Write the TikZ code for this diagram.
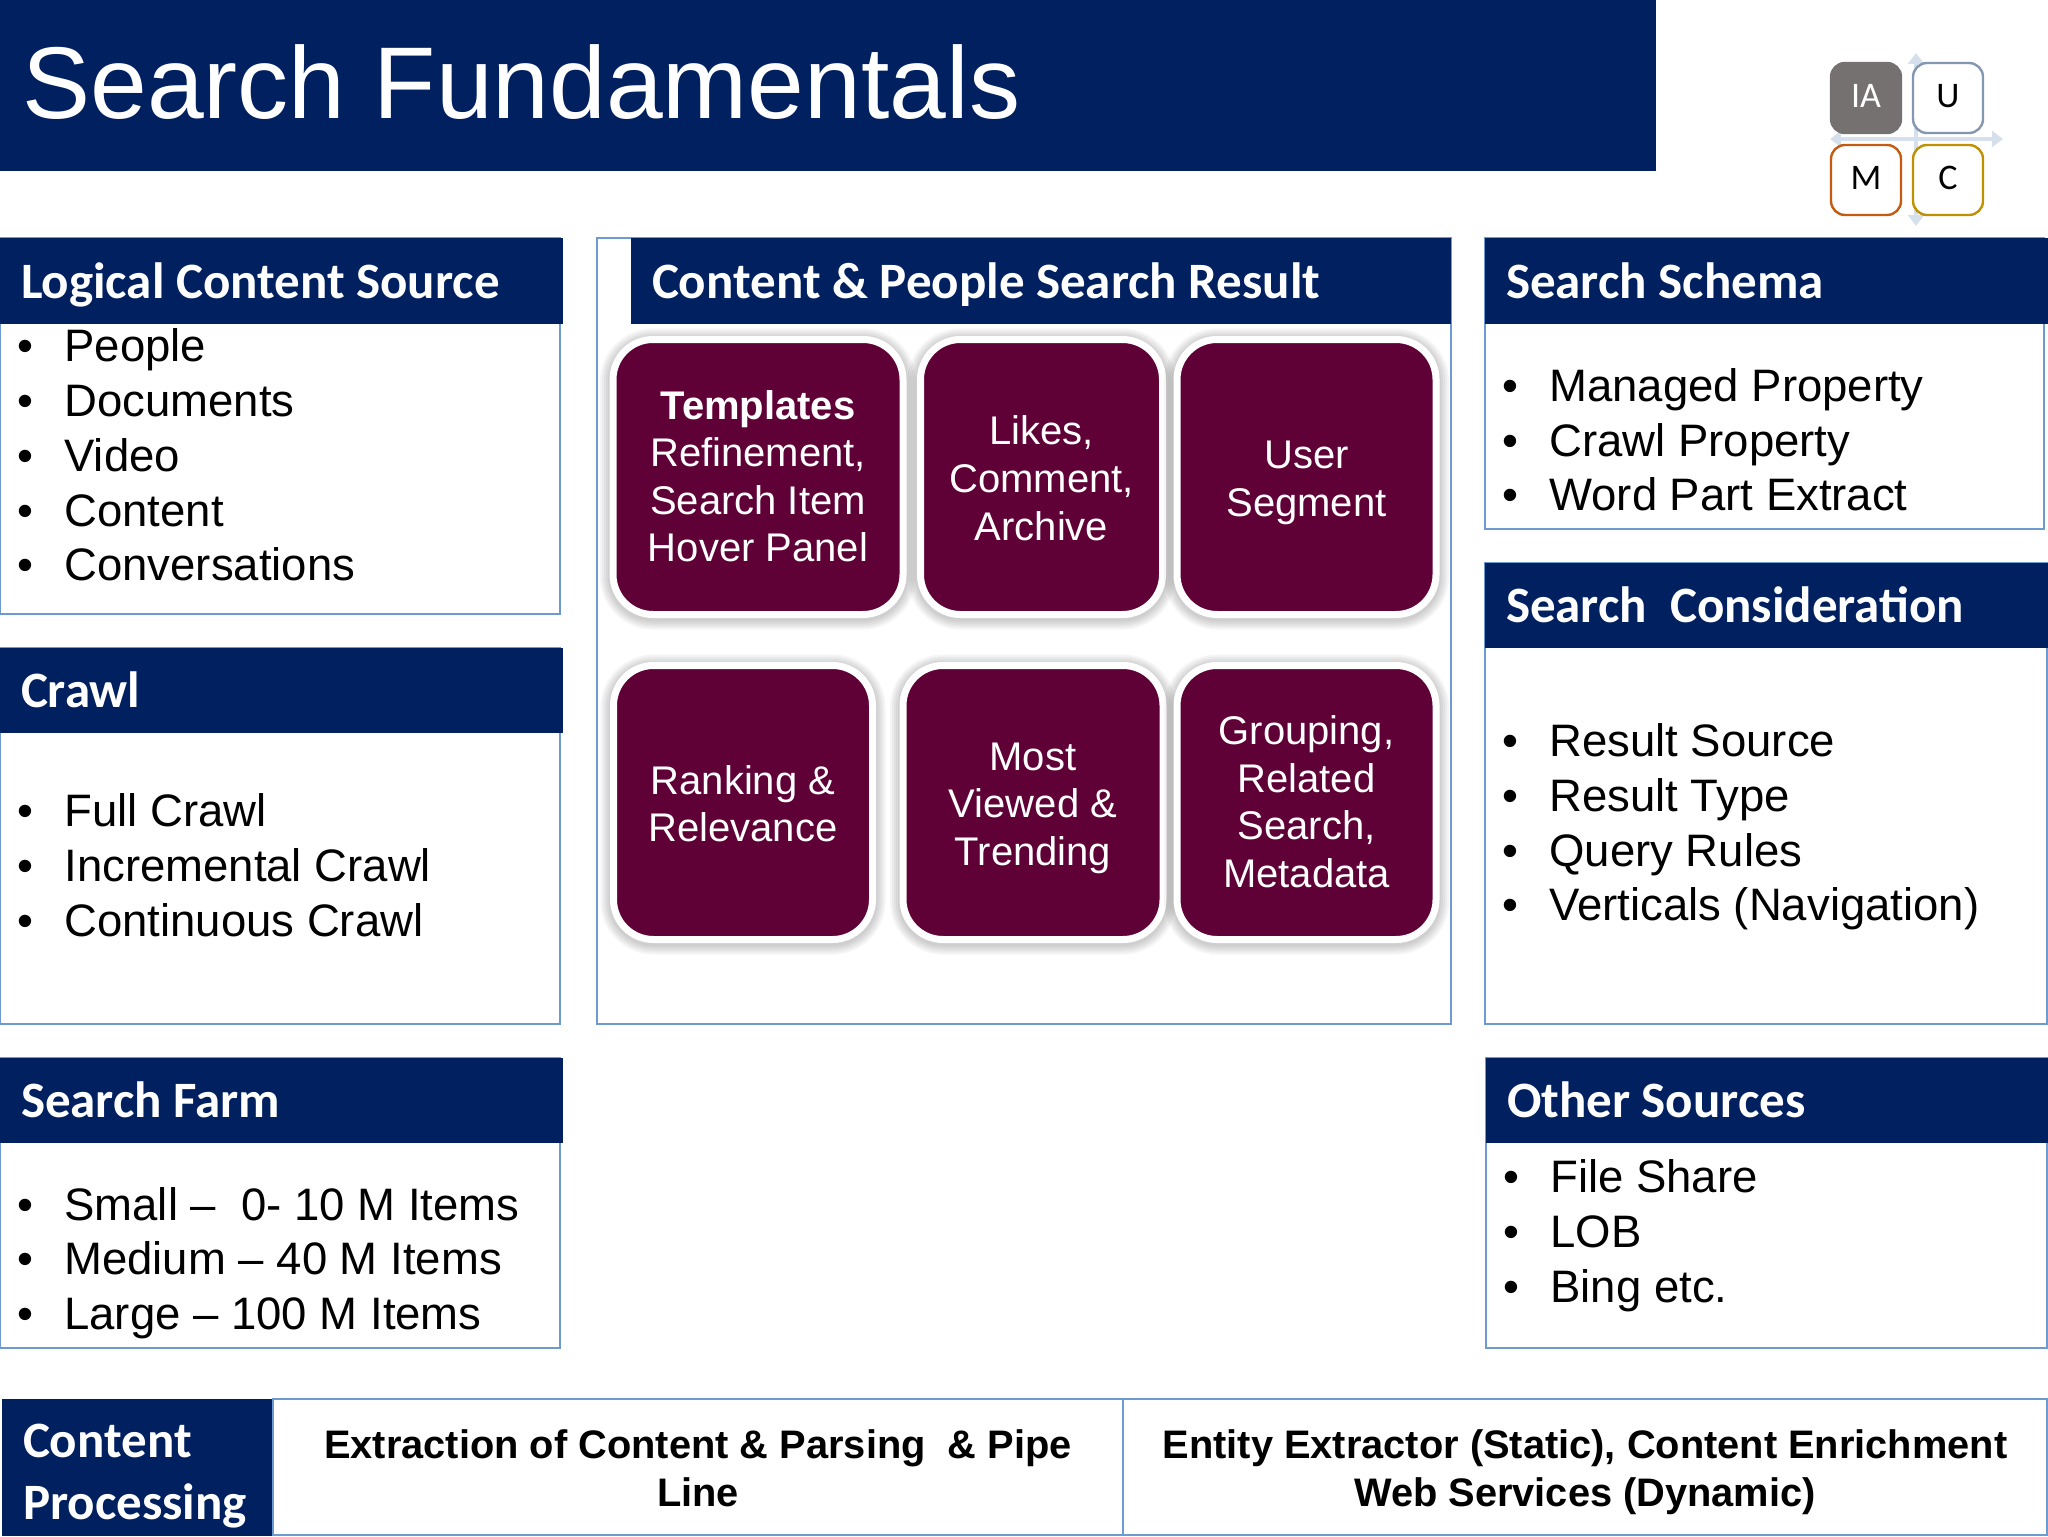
\documentclass[tikz,border=0pt]{standalone}
\usepackage{fontspec}
\setmainfont{Liberation Sans}
\newfontfamily\headfont{Carlito}
\usetikzlibrary{arrows.meta}
\definecolor{navybar}{HTML}{002060}
\definecolor{panelline}{HTML}{6C9BD2}
\definecolor{tilefill}{HTML}{5F0037}
\definecolor{crossline}{HTML}{D6DFEC}
\definecolor{logogray}{HTML}{767171}
\definecolor{logoblue}{HTML}{8497B0}
\definecolor{logoorange}{HTML}{C55A11}
\definecolor{logogold}{HTML}{BF9000}
\newcommand{\itembul}{\strut\makebox[23.5pt][l]{\textbullet}}
\newcommand{\linestrut}{\rule[-4pt]{0pt}{23.5pt}}
\newcommand{\laststrut}{\rule[-6pt]{0pt}{10pt}}
\newcommand{\headstrut}{\rule[-1.5pt]{0pt}{26.5pt}}
\tikzset{
  headbar/.style={fill=navybar,text=white,anchor=north west,inner xsep=10.5pt,inner ysep=0pt,outer sep=0pt,
    align=flush left,font=\headfont\bfseries\fontsize{25.5}{31}\selectfont,text height=19pt,text depth=2pt},
  panelbox/.style={draw=panelline,line width=1.2pt,fill=white,anchor=north west,inner sep=0pt,outer sep=0pt},
  itemlist/.style={anchor=north west,inner sep=0pt,align=flush left,font=\fontsize{22.75}{27.4}\selectfont},
  softring/.style={preaction={draw=black,draw opacity=.04,line width=#1,transform canvas={yshift=-1pt}}},
  tilebox/.style={fill=tilefill,draw=white,line width=3.5pt,rounded corners=20pt,text=white,align=flush center,inner sep=0pt,
    font=\fontsize{20}{23.8}\selectfont,softring=13pt,softring=11pt,softring=9pt,softring=7pt,softring=5pt},
  logobox/.style={draw=#1,line width=1.2pt,fill=white,rounded corners=7pt,minimum size=35pt,inner sep=0pt,
    font=\headfont\fontsize{18}{20}\selectfont,text height=11.7pt,text depth=2pt},
  cellbox/.style={draw=panelline,line width=1.2pt,anchor=north west,inner sep=0pt,outer sep=0pt,align=flush center,
    font=\bfseries\fontsize{19.9}{23.8}\selectfont},
  crossarrow/.style={draw=crossline,line width=2.2pt,{Triangle[width=8pt,length=5.5pt]}-{Triangle[width=8pt,length=5.5pt]}}
}
\begin{document}
\begin{tikzpicture}[x=1pt,y=-1pt]
  \useasboundingbox (0,0) rectangle (1024,768);
  % title
  \node[fill=navybar,text=white,anchor=north west,minimum width=828pt,minimum height=85.5pt,inner sep=0pt,outer sep=0pt] (titlebar) at (0,0) {};
  \node[anchor=west,inner sep=0pt,text=white,font=\fontsize{51}{56}\selectfont] (titletext) at (11,41) {Search Fundamentals};
  % logo
  \coordinate (crossl) at (915,69.5);
  \coordinate (crossr) at (1001.5,69.5);
  \coordinate (crosst) at (958,26.5);
  \coordinate (crossb) at (958,113);
  \draw[crossarrow] (crossl) -- (crossr);
  \draw[crossarrow] (crosst) -- (crossb);
  \node[logobox=logogray,fill=logogray,text=white] (logoia) at (933,49) {IA};
  \node[logobox=logoblue] (logou) at (974,49) {U};
  \node[logobox=logoorange] (logom) at (933,90) {M};
  \node[logobox=logogold] (logoc) at (974,90) {C};
  % left column
  \node[panelbox,minimum width=280pt,minimum height=188pt] (logicalbox) at (0,119) {};
  \node[headbar,minimum width=281.5pt,minimum height=43pt,text width=260.5pt] (logicalbar) at (0,119) {Logical Content Source};
  \node[itemlist] (logicallist) at (8.5,161.5) {\itembul People\\\itembul Documents\\\itembul Video\\\itembul Content\\\itembul Conversations};
  \node[panelbox,minimum width=280pt,minimum height=188pt] (crawlbox) at (0,324) {};
  \node[headbar,minimum width=281.5pt,minimum height=42.5pt,text width=260.5pt] (crawlbar) at (0,324) {Crawl};
  \node[itemlist] (crawllist) at (8.5,394) {\itembul Full Crawl\\\itembul Incremental Crawl\\\itembul Continuous Crawl};
  \node[panelbox,minimum width=280pt,minimum height=145pt] (farmbox) at (0,529) {};
  \node[headbar,minimum width=281.5pt,minimum height=42.5pt,text width=260.5pt] (farmbar) at (0,529) {Search Farm};
  \node[itemlist] (farmlist) at (8.5,590.7) {\itembul Small --\ \ 0- 10 M Items\\\itembul Medium -- 40 M Items\\\itembul Large -- 100 M Items};
  % centre
  \node[panelbox,minimum width=427pt,minimum height=393pt] (resultbox) at (298.5,119) {};
  \node[headbar,minimum width=410pt,minimum height=43pt,text width=389pt] (resultbar) at (315.5,119) {Content \& People Search Result};
  \node[tilebox,minimum width=145pt,minimum height=137.5pt] (tiletemplates) at (379,238.5) {\linestrut\textbf{Templates}\\Refinement,\\Search Item\\\laststrut Hover Panel};
  \node[tilebox,minimum width=121pt,minimum height=137.5pt] (tilelikes) at (520.75,238.5) {\linestrut Likes,\\Comment,\\\linestrut Archive};
  \node[tilebox,minimum width=129.5pt,minimum height=137.5pt] (tileuser) at (653.25,238.5) {\linestrut User\\\linestrut Segment};
  \node[tilebox,minimum width=129.5pt,minimum height=137pt] (tileranking) at (371.5,401.25) {\linestrut Ranking \&\\\linestrut Relevance};
  \node[tilebox,minimum width=130pt,minimum height=137pt] (tileviewed) at (516.5,401.25) {\linestrut Most\\Viewed \&\\\linestrut Trending};
  \node[tilebox,minimum width=129.5pt,minimum height=137pt] (tilegrouping) at (653.25,401.25) {\linestrut Grouping,\\Related\\Search,\\\laststrut Metadata};
  % right column
  \node[panelbox,minimum width=279.5pt,minimum height=145.5pt] (schemabox) at (742.5,119) {};
  \node[headbar,minimum width=281.5pt,minimum height=43pt,text width=260.5pt] (schemabar) at (742.5,119) {Search Schema};
  \node[itemlist] (schemalist) at (751,181.3) {\itembul Managed Property\\\itembul Crawl Property\\\itembul Word Part Extract};
  \node[panelbox,minimum width=281pt,minimum height=230.5pt] (considerbox) at (742.5,281.5) {};
  \node[headbar,minimum width=281.5pt,minimum height=42.5pt,text width=260.5pt] (considerbar) at (742.5,281.5) {Search\ \ Consideration};
  \node[itemlist] (considerlist) at (751,358.9) {\itembul Result Source\\\itembul Result Type\\\itembul Query Rules\\\itembul Verticals (Navigation)};
  \node[panelbox,minimum width=280.5pt,minimum height=145pt] (otherbox) at (743,529) {};
  \node[headbar,minimum width=281pt,minimum height=42.5pt,text width=260pt] (otherbar) at (743,529) {Other Sources};
  \node[itemlist] (otherlist) at (751.5,577) {\itembul File Share\\\itembul LOB\\\itembul Bing etc.};
  % bottom row
  \node[headbar,minimum width=135.5pt,minimum height=68.5pt,text width=114.5pt,text height=,text depth=] (processbar) at (1,699.5) {\headstrut Content\\\headstrut Processing};
  \node[cellbox,minimum width=425pt,minimum height=68pt,text width=420pt] (extractcell) at (136.5,699.5) {\linestrut Extraction of Content \& Parsing\ \ \& Pipe\\\linestrut Line};
  \node[cellbox,minimum width=462pt,minimum height=68pt,text width=455pt] (entitycell) at (561.5,699.5) {\linestrut Entity Extractor (Static), Content Enrichment\\\linestrut Web Services (Dynamic)};
\end{tikzpicture}
\end{document}
